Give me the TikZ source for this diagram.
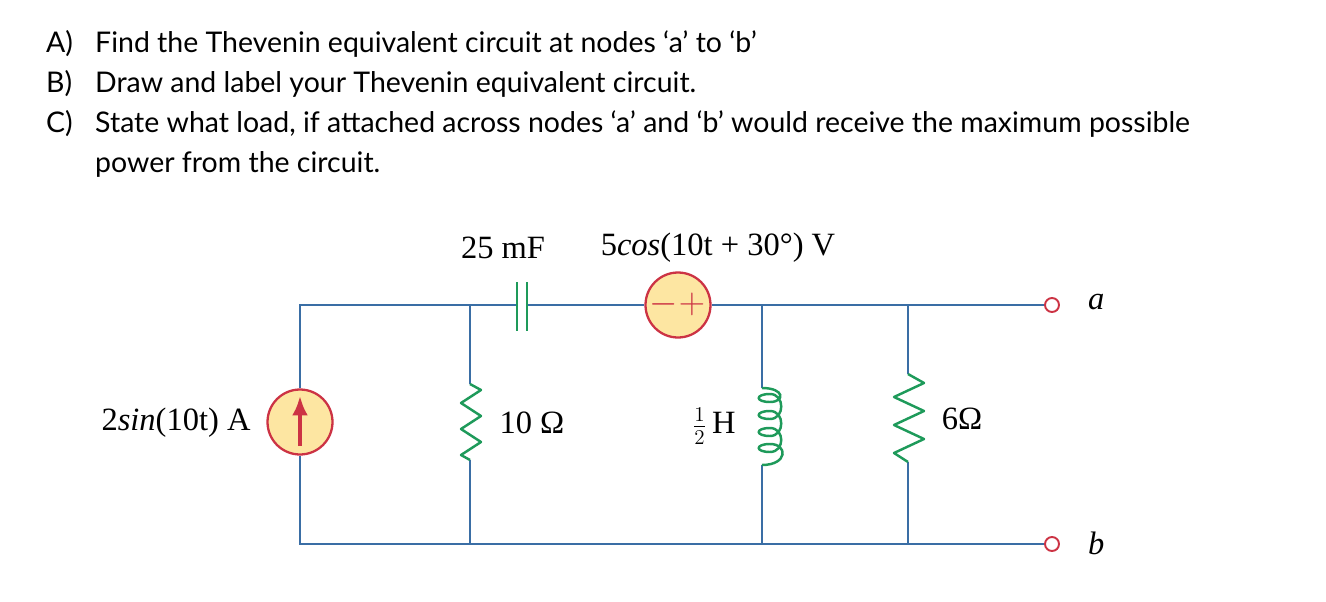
\documentclass[tikz,border=0pt]{standalone}
\usepackage{fontspec}
\setmainfont{Liberation Serif}
\newfontfamily\qfont{Lato}
\usetikzlibrary{arrows.meta}
\definecolor{wire}{HTML}{3A6EA5}
\definecolor{grn}{HTML}{1E9A5A}
\definecolor{rd}{HTML}{CC3344}
\definecolor{src}{HTML}{FDE6A2}
\begin{document}
\begin{tikzpicture}[x=0.02cm,y=-0.02cm,
  w/.style={draw=wire,line width=1.3pt},
  g/.style={draw=grn,line width=1.4pt},
  s/.style={circle,draw=rd,line width=1.3pt,fill=src,minimum size=1.3cm,inner sep=0pt},
  q/.style={anchor=base west,font=\qfont\fontsize{16.2}{19}\selectfont},
  lb/.style={font=\fontsize{18.5}{20}\selectfont},
  term/.style={circle,draw=rd,line width=1.1pt,fill=white,minimum size=0.28cm,inner sep=0pt}]
\useasboundingbox (0,0) rectangle (1326,602);
% text
\node[q] (qa) at (40,52) {A)};
\node[q] (ta) at (89,52) {Find the Thevenin equivalent circuit at nodes ‘a’ to ‘b’};
\node[q] (qb) at (40,92) {B)};
\node[q] (tb) at (89,92) {Draw and label your Thevenin equivalent circuit.};
\node[q] (qc) at (40,132) {C)};
\node[q] (tc) at (89,132) {State what load, if attached across nodes ‘a’ and ‘b’ would receive the maximum possible};
\node[q] (td) at (89,172) {power from the circuit.};
% coordinates
\coordinate (tl) at (300,305); \coordinate (bl) at (300,544);
\coordinate (t1) at (470,305); \coordinate (b1) at (470,544);
\coordinate (t2) at (762,305); \coordinate (b2) at (762,544);
\coordinate (t3) at (908,305); \coordinate (b3) at (908,544);
\node[term] (a) at (1052,305) {};
\node[term] (b) at (1052,544) {};
\node[s] (is) at (300,422) {};
\draw[rd,line width=2.4pt,-{Latex[length=11pt,width=9pt]}] (300,446) -- (300,396);
\node[s] (vs) at (678,305) {};
\node[text=rd,font=\fontsize{20}{20}\selectfont] (vm) at (664,304) {$-$};
\node[text=rd,font=\fontsize{20}{20}\selectfont] (vp) at (692,304) {$+$};
\coordinate (c1) at (517,305); \coordinate (c2) at (527,305);
% wires
\draw[w] (is.north) -- (tl) -- (t1) -- (c1);
\draw[w] (c2) -- (vs.west);
\draw[w] (vs.east) -- (t2) -- (t3) -- (a.west);
\draw[w] (is.south) -- (bl) -- (b1) -- (b2) -- (b3) -- (b.west);
% capacitor
\draw[g] (517,282) -- (517,331); \draw[g] (527,282) -- (527,331);
% 10 ohm
\draw[w] (t1) -- (470,384) (470,460) -- (b1);
\draw[g,line join=round] (470,384) -- (481,390) -- (461,403) -- (481,416) -- (461,429) -- (481,442) -- (461,455) -- (470,460);
% 6 ohm
\draw[w] (t3) -- (908,374) (908,462) -- (b3);
\draw[g,line join=round] (908,374) -- (924,383) -- (894,397) -- (924,411) -- (894,425) -- (924,439) -- (894,453) -- (908,462);
% inductor
\draw[w] (t2) -- (762,388) (762,465) -- (b2);
\draw[g] (762,388) .. controls (785,388) and (785,402) .. (770,402)
  .. controls (755,402) and (755,394) .. (770,394)
  .. controls (785,394) and (785,419) .. (770,419)
  .. controls (755,419) and (755,411) .. (770,411)
  .. controls (785,411) and (785,436) .. (770,436)
  .. controls (755,436) and (755,428) .. (770,428)
  .. controls (785,428) and (785,452) .. (770,452)
  .. controls (755,452) and (755,444) .. (770,444)
  .. controls (788,444) and (788,465) .. (762,465);
% labels
\node[lb] (l1) at (503,248) {25 mF};
\node[lb] (l2) at (718,248) {5\textit{cos}(10t + 30°) V};
\node[lb] (l3) at (176,423) {2\textit{sin}(10t) A};
\node[lb] (l4) at (532,423) {10 Ω};
\node[lb] (l5) at (714,426) {$\frac{1}{2}$\,H};
\node[lb] (l6) at (962,419) {6Ω};
\node[lb,anchor=west] (la) at (1082,302) {\textit{a}};
\node[lb,anchor=west] (lbb) at (1082,543) {\textit{b}};
\end{tikzpicture}
\end{document}
